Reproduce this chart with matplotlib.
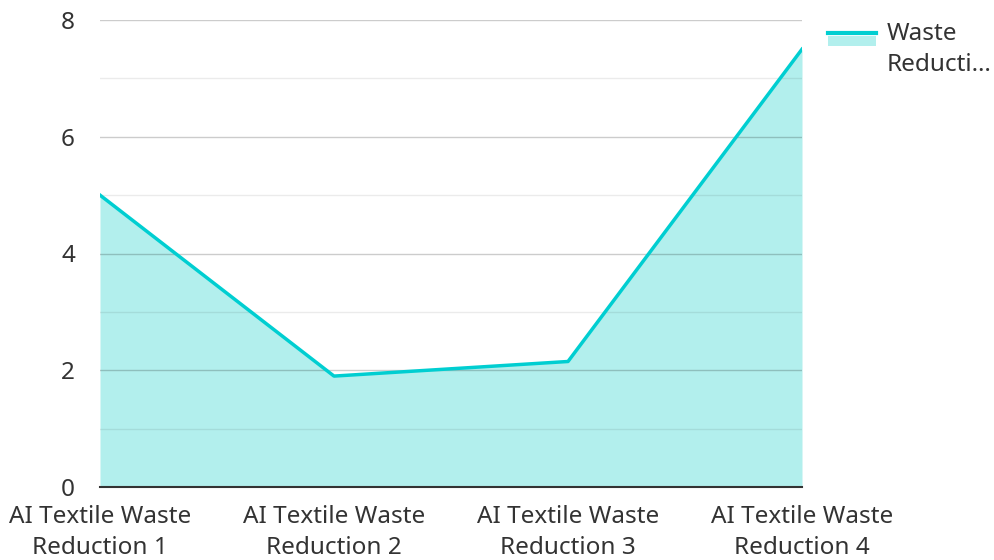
import matplotlib.pyplot as plt
from matplotlib.lines import Line2D
from matplotlib.patches import Rectangle

plt.rcParams['font.family'] = ['Noto Sans', 'DejaVu Sans']

# Data
categories = ['AI Textile Waste\nReduction 1', 'AI Textile Waste\nReduction 2',
              'AI Textile Waste\nReduction 3', 'AI Textile Waste\nReduction 4']
values = [5.0, 1.9, 2.15, 7.5]
series_name = 'Waste\nReducti…'

line_color = '#00CED1'
fill_color = '#B2EFED'
text_color = '#333333'

fig = plt.figure(figsize=(9.94, 5.6), dpi=100)
ax = fig.add_axes([100 / 994, 1 - 487 / 560, 702 / 994, 467 / 560])

x = list(range(len(categories)))
ax.fill_between(x, values, 0, color=fill_color, linewidth=0, zorder=1)
ax.plot(x, values, color=line_color, linewidth=2.5, zorder=3)

ax.set_xlim(0, len(categories) - 1)
ax.set_ylim(0, 8)
ax.set_yticks([0, 2, 4, 6, 8])
ax.set_yticks([1, 3, 5, 7], minor=True)
ax.set_xticks(x)
ax.set_xticklabels(categories, linespacing=1.38)

ax.grid(axis='y', which='major', color='black', alpha=0.2, linewidth=1)
ax.grid(axis='y', which='minor', color='black', alpha=0.08, linewidth=1)
ax.set_axisbelow(False)
for name, s in ax.spines.items():
    s.set_visible(name == 'bottom')
ax.spines['bottom'].set_color('#333333')
ax.spines['bottom'].set_linewidth(1.5)
ax.spines['bottom'].set_zorder(4)
ax.tick_params(axis='both', which='both', length=0, labelsize=17.5, colors=text_color)
ax.tick_params(axis='y', pad=18)
ax.tick_params(axis='x', pad=13)

# Legend
fig.add_artist(Rectangle((828 / 994, 1 - 46 / 560), 48 / 994, 10 / 560,
                         transform=fig.transFigure, color=fill_color, linewidth=0))
fig.add_artist(Line2D([828 / 994, 876 / 994], [1 - 33 / 560, 1 - 33 / 560],
                      transform=fig.transFigure, color=line_color, linewidth=3))
fig.text(887 / 994, 1 - 22 / 560, series_name, fontsize=17.5, color=text_color,
         va='top', ha='left', linespacing=1.38)

fig.savefig('out.png', dpi=100)
